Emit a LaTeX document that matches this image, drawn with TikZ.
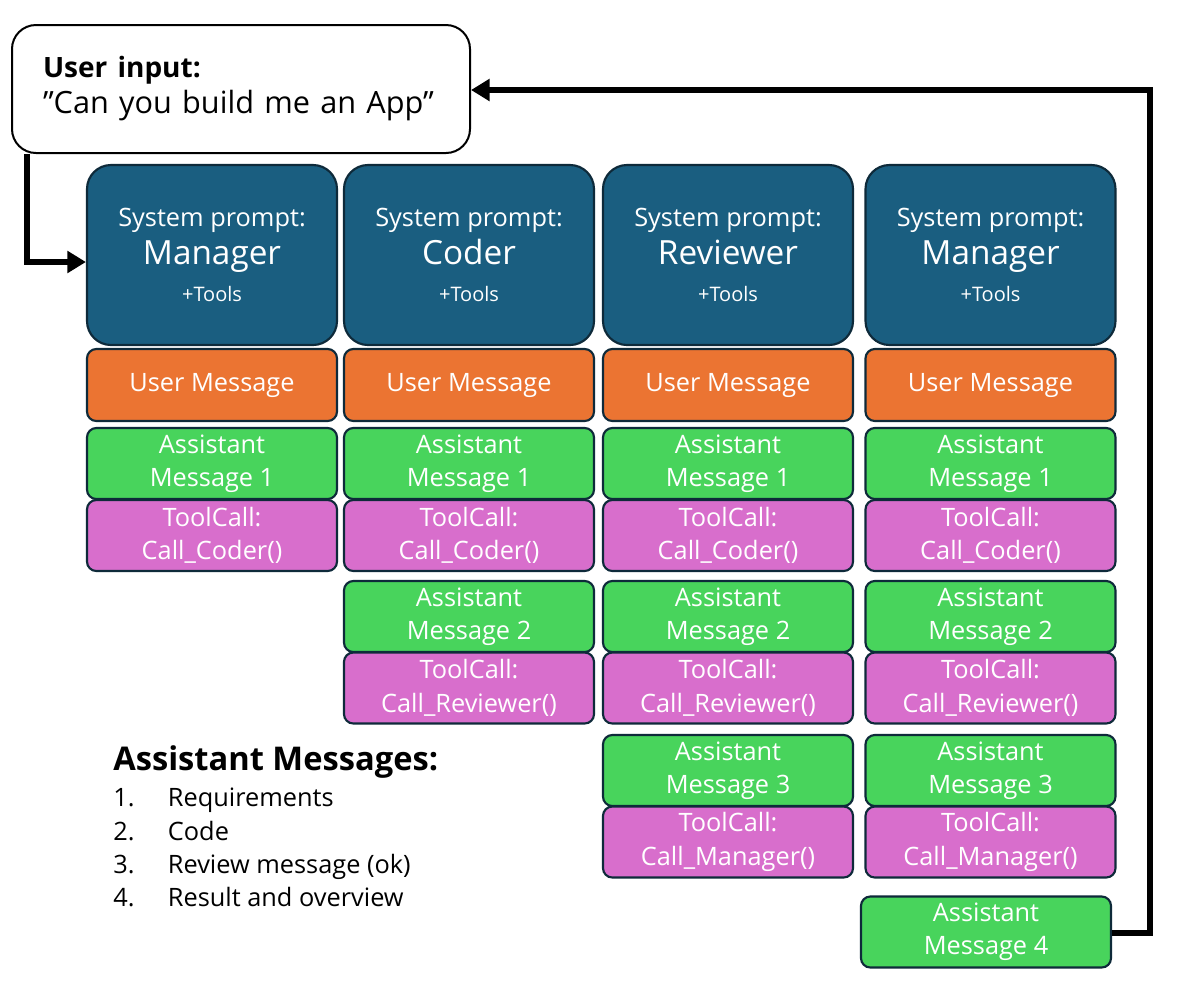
\documentclass[tikz,border=0pt]{standalone}
\usepackage{fontspec}
\setmainfont{Open Sans}
\usetikzlibrary{arrows.meta}
\definecolor{sysblue}{HTML}{1A5E80}
\definecolor{edge}{HTML}{0E2A3A}
\definecolor{umsg}{HTML}{EB7432}
\definecolor{amsg}{HTML}{48D45C}
\definecolor{tcall}{HTML}{D86ECC}
\tikzset{
  x=0.75pt,y=-0.75pt,
  base/.style={draw=edge,line width=1.6pt,align=center,inner sep=0pt,minimum width=187.5pt,text=white},
  sysbox/.style={base,fill=sysblue,rounded corners=18pt,minimum height=135pt,font=\fontsize{19}{28}\selectfont},
  userbox/.style={base,fill=umsg,rounded corners=7pt,minimum height=54pt,font=\fontsize{19}{24}\selectfont},
  asstbox/.style={base,fill=amsg,rounded corners=7pt,minimum height=53.25pt,font=\fontsize{19}{25}\selectfont},
  toolbox/.style={base,fill=tcall,rounded corners=7pt,minimum height=53.25pt,font=\fontsize{19}{25}\selectfont},
  flow/.style={line width=4pt,-{Triangle[length=14pt,width=16pt]}}
}
\newcommand{\sysprompt}[1]{System prompt:\\{\fontsize{25}{30}\selectfont #1}\\{\fontsize{15}{18}\selectfont +Tools}}
\begin{document}
\begin{tikzpicture}
\useasboundingbox[fill=white] (0,0) rectangle (1200,1001);
\node[draw=black,line width=1.5pt,rounded corners=18pt,fill=white,minimum width=343.5pt,minimum height=96pt,align=left,text width=297pt,inner xsep=23pt,inner ysep=0pt,font=\fontsize{23}{27}\selectfont] (ui) at (241,89)
 {{\fontsize{21}{26}\selectfont\bfseries User input:}\\\symbol{34}Can you build me an App\symbol{34}};
% columns
\foreach \n/\cx/\nm in {1/212/Manager,2/469/Coder,3/728/Reviewer,4/990.5/Manager}{
  \node[sysbox] (s\n) at (\cx,255) {\sysprompt{\nm}};
  \node[userbox] (u\n) at (\cx,385) {User Message};
  \node[asstbox] (a1\n) at (\cx,463.5) {Assistant\\Message 1};
  \node[toolbox] (t1\n) at (\cx,535.5) {ToolCall:\\Call\_Coder()};
}
\foreach \n/\cx in {2/469,3/728,4/990.5}{
  \node[asstbox] (a2\n) at (\cx,616.5) {Assistant\\Message 2};
  \node[toolbox] (t2\n) at (\cx,688) {ToolCall:\\Call\_Reviewer()};
}
\foreach \n/\cx in {3/728,4/990.5}{
  \node[asstbox] (a3\n) at (\cx,770.5) {Assistant\\Message 3};
  \node[toolbox] (t3\n) at (\cx,842) {ToolCall:\\Call\_Manager()};
}
\node[asstbox] (a44) at (986,932) {Assistant\\Message 4};
% arrows
\coordinate (c1) at (27,262);
\draw[flow] (ui.south west -| c1) -- (c1) -- (s1.west |- c1);
\coordinate (c2) at (1150,933);
\coordinate (c3) at (1150,90);
\draw[flow] (a44.east |- c2) -- (c2) -- (c3) -- (ui.east |- c3);
% legend
\node[anchor=north west,inner sep=0pt,font=\fontsize{24.5}{30}\selectfont\bfseries] (lh) at (113,745) {Assistant Messages:};
\node[anchor=north west,inner sep=0pt,align=left,font=\fontsize{19}{25}\selectfont] (ll) at (113,788)
 {\makebox[41pt][l]{1.}Requirements\\\makebox[41pt][l]{2.}Code\\\makebox[41pt][l]{3.}Review message (ok)\\\makebox[41pt][l]{4.}Result and overview};
\end{tikzpicture}
\end{document}
